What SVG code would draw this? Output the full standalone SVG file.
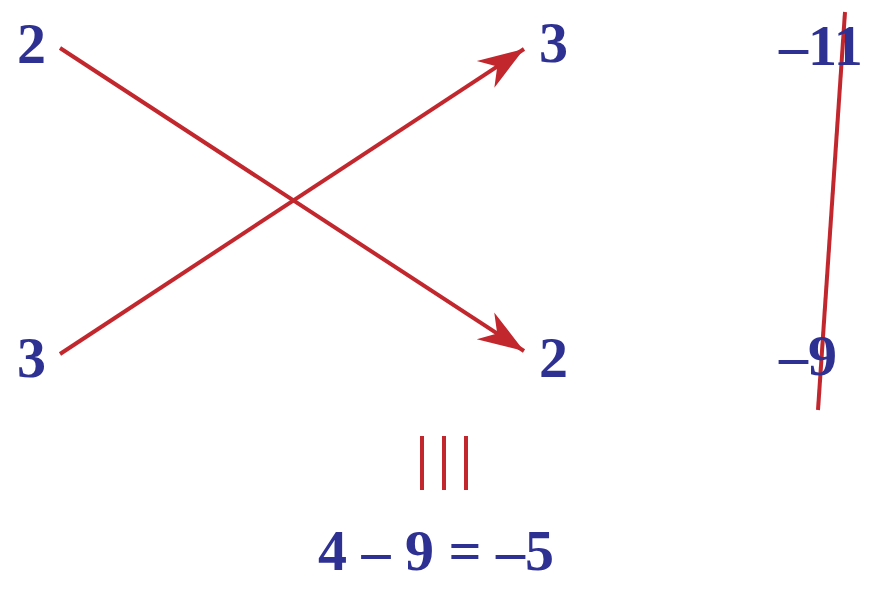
<svg xmlns="http://www.w3.org/2000/svg" width="890" height="604" viewBox="0 0 890 604">
<style>
.t{font-family:"Liberation Serif",serif;font-weight:bold;font-size:58px;fill:#2e3192}
.l{stroke:#c1272d;stroke-width:4;fill:none}
</style>
<defs>
<marker id="ah" markerUnits="userSpaceOnUse" markerWidth="60" markerHeight="40" viewBox="-45 -20 50 40" refX="0" refY="0" orient="auto">
<path d="M0,0 L-46,-16 L-32,0 L-46,16 Z" fill="#c1272d"/>
</marker>
</defs>
<g id="connectors">
<line class="l" x1="60" y1="48" x2="524" y2="351" marker-end="url(#ah)"/>
<line class="l" x1="60" y1="354" x2="524" y2="49" marker-end="url(#ah)"/>
<line class="l" x1="845" y1="12" x2="818" y2="410"/>
<line class="l" x1="422" y1="436" x2="422" y2="490"/>
<line class="l" x1="444" y1="436" x2="444" y2="490"/>
<line class="l" x1="466" y1="436" x2="466" y2="490"/>
</g>
<g id="n1"><text class="t" x="17" y="63">2</text></g>
<g id="n2"><text class="t" x="539" y="62">3</text></g>
<g id="n3"><text class="t" x="17" y="377">3</text></g>
<g id="n4"><text class="t" x="539" y="377">2</text></g>
<g id="n5"><text class="t" x="779" y="65">–11</text></g>
<g id="n6"><text class="t" x="779" y="375">–9</text></g>
<g id="n7"><text class="t" x="318" y="570">4 – 9 = –5</text></g>
</svg>
